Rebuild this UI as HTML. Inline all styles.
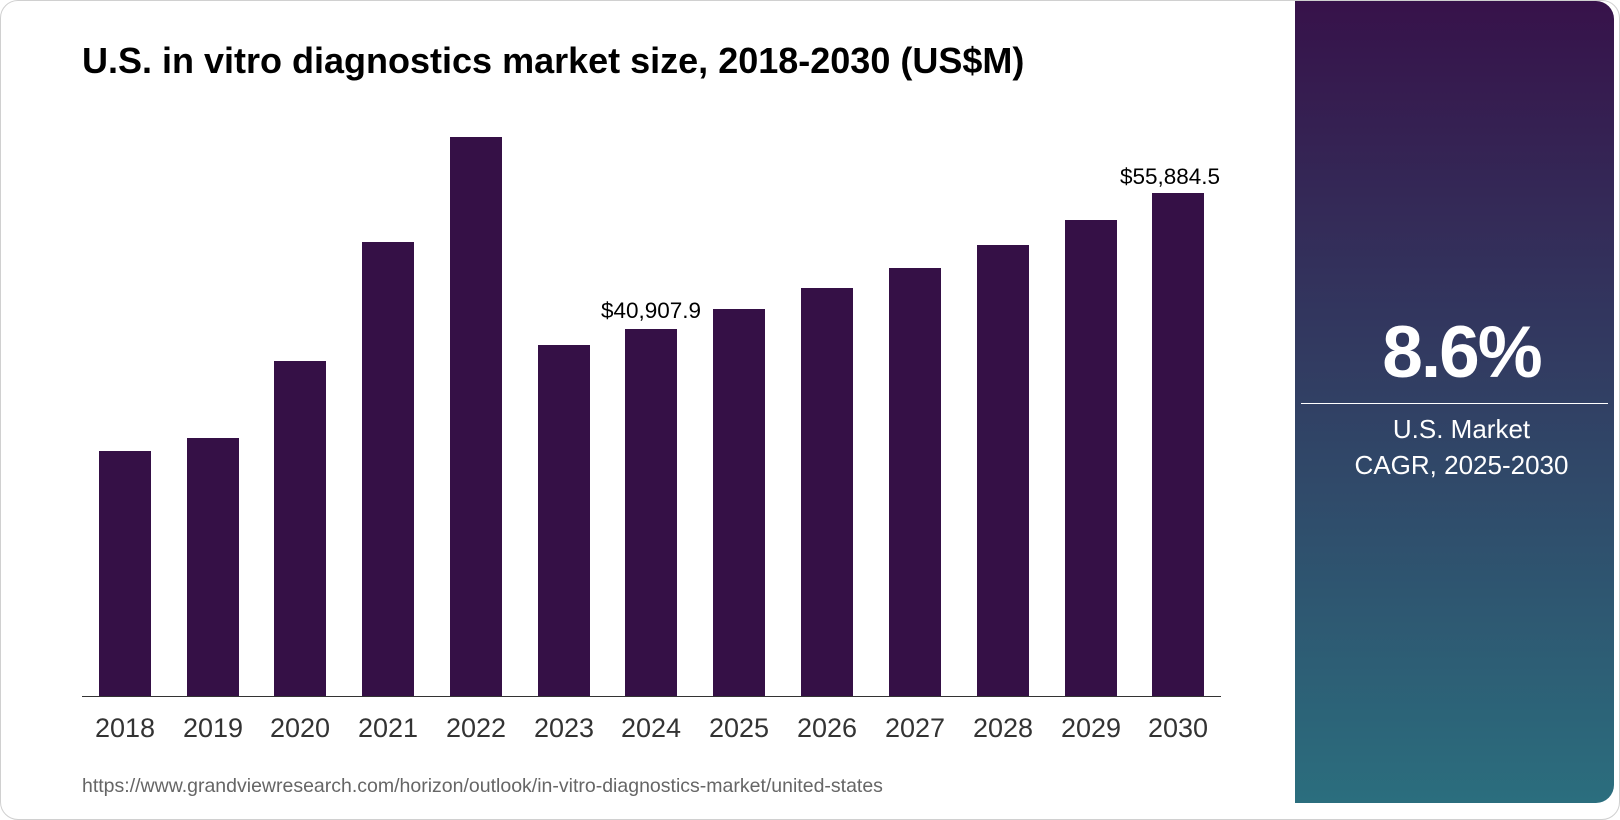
<!DOCTYPE html>
<html><head><style>
body{margin:0;width:1620px;height:820px;background:#fff;font-family:"Liberation Sans",Arial,sans-serif;overflow:hidden}
.card{position:absolute;left:0;top:0;width:1618px;height:818px;border:1px solid #d0d0d0;border-radius:18px;overflow:hidden;background:#fff}
.panel{position:absolute;left:1294px;top:0;width:319px;height:802px;background:linear-gradient(#37124a,#2b6e7e);border-radius:0 18px 18px 0}
.t{position:absolute;white-space:nowrap}
</style></head><body>
<div class="card">
<div class="t" style="left:81px;top:39px;font-size:36px;font-weight:bold;color:#000">U.S. in vitro diagnostics market size, 2018-2030 (US$M)</div>
<svg width="1290" height="820" style="position:absolute;left:0;top:0">
<g fill="#351046">
<rect x="98" y="450" width="52" height="245"/>
<rect x="186" y="437" width="52" height="258"/>
<rect x="273" y="360" width="52" height="335"/>
<rect x="361" y="241" width="52" height="454"/>
<rect x="449" y="136" width="52" height="559"/>
<rect x="537" y="344" width="52" height="351"/>
<rect x="624" y="328" width="52" height="367"/>
<rect x="712" y="308" width="52" height="387"/>
<rect x="800" y="287" width="52" height="408"/>
<rect x="888" y="267" width="52" height="428"/>
<rect x="976" y="244" width="52" height="451"/>
<rect x="1064" y="219" width="52" height="476"/>
<rect x="1151" y="192" width="52" height="503"/>
</g>
<line x1="81" y1="695.5" x2="1220" y2="695.5" stroke="#333" stroke-width="1"/>
<g font-size="27" fill="#333" text-anchor="middle" font-family="Liberation Sans,Arial,sans-serif">
<text x="124" y="736">2018</text><text x="212" y="736">2019</text><text x="299" y="736">2020</text>
<text x="387" y="736">2021</text><text x="475" y="736">2022</text><text x="563" y="736">2023</text>
<text x="650" y="736">2024</text><text x="738" y="736">2025</text><text x="826" y="736">2026</text>
<text x="914" y="736">2027</text><text x="1002" y="736">2028</text><text x="1090" y="736">2029</text>
<text x="1177" y="736">2030</text>
</g>
<g font-size="22.5" fill="#000" text-anchor="middle" font-family="Liberation Sans,Arial,sans-serif">
<text x="650" y="317">$40,907.9</text>
<text x="1169" y="183">$55,884.5</text>
</g>
<text x="81" y="791" font-size="19.5" fill="#666" font-family="Liberation Sans,Arial,sans-serif">https://www.grandviewresearch.com/horizon/outlook/in-vitro-diagnostics-market/united-states</text>
</svg>
<div class="panel">
<div class="t" style="left:7px;width:319px;text-align:center;top:310px;font-size:73px;font-weight:bold;color:#fff;letter-spacing:-2px">8.6%</div>
<div style="position:absolute;left:6px;width:307px;top:402px;height:1px;background:#fff"></div>
<div class="t" style="left:7px;width:319px;text-align:center;top:410px;font-size:26px;color:#fff;line-height:36px">U.S. Market<br>CAGR, 2025-2030</div>
</div>
</div>
</body></html>
